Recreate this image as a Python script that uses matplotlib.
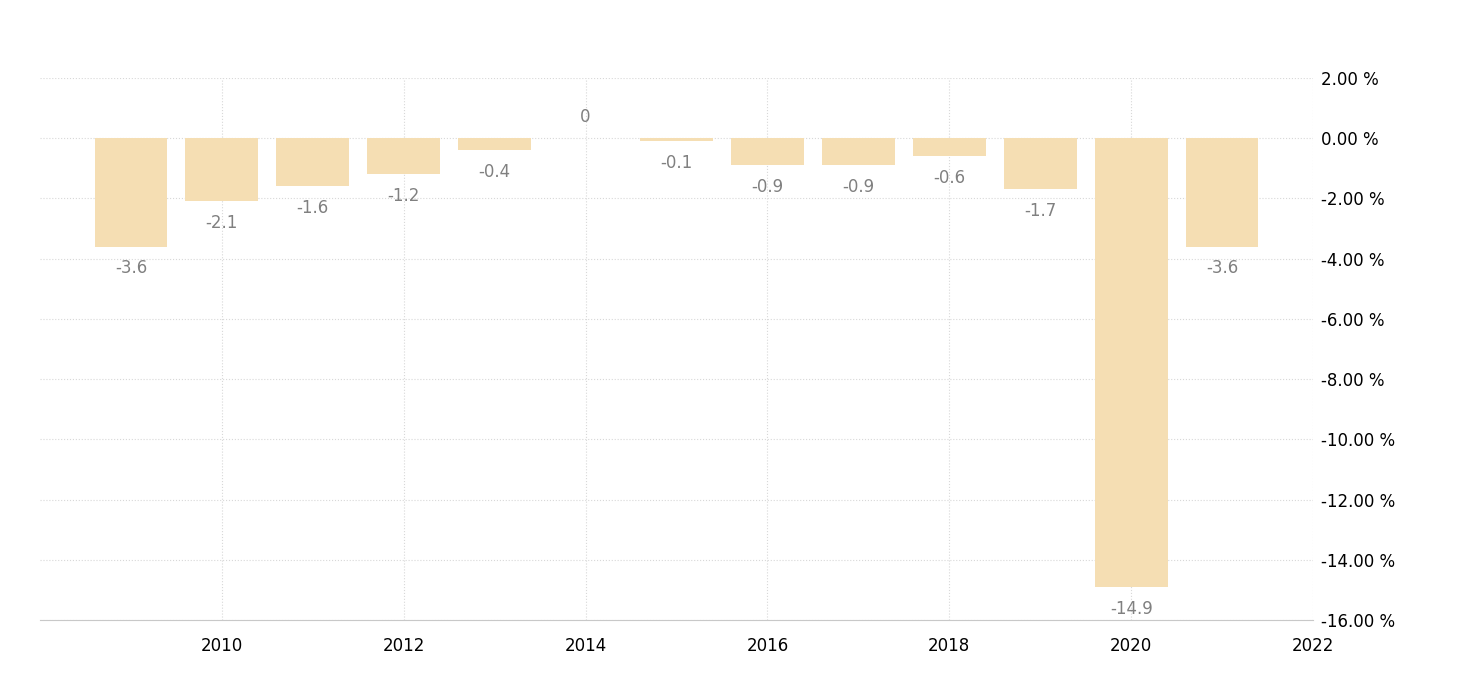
import matplotlib.pyplot as plt

years = [2009, 2010, 2011, 2012, 2013, 2014, 2015, 2016, 2017, 2018, 2019, 2020, 2021]
values = [-3.6, -2.1, -1.6, -1.2, -0.4, 0.0, -0.1, -0.9, -0.9, -0.6, -1.7, -14.9, -3.6]
labels = ["-3.6", "-2.1", "-1.6", "-1.2", "-0.4", "0", "-0.1", "-0.9", "-0.9", "-0.6", "-1.7", "-14.9", "-3.6"]
yticks = [2, 0, -2, -4, -6, -8, -10, -12, -14, -16]
xticks = [2010, 2012, 2014, 2016, 2018, 2020, 2022]

fig = plt.figure(figsize=(14.58, 6.86), dpi=100)
ax = fig.add_axes([40 / 1458, 1 - 620 / 686, 1273 / 1458, 542 / 686])

ax.bar(years, values, width=0.8, color="#f5deb3", zorder=2)
for x, v, t in zip(years, values, labels):
    y = v - 0.42 if v < 0 else v + 0.4
    ax.text(x, y, t, ha="center", va="top" if v < 0 else "bottom",
            color="#808080", fontsize=12)

ax.set_xlim(2008, 2022)
ax.set_ylim(-16, 2)
ax.set_xticks(xticks)
ax.set_yticks(yticks)
ax.set_yticklabels(["%.2f %%" % v for v in yticks])
ax.yaxis.tick_right()
ax.tick_params(axis="y", length=0, labelsize=12, colors="#000000", pad=6)
ax.tick_params(axis="x", length=0, labelsize=12, colors="#000000", pad=12)
ax.grid(True, color="#d8d8d8", linestyle=":", linewidth=0.8, zorder=0)
for s in ["top", "left", "right"]:
    ax.spines[s].set_visible(False)
ax.spines["bottom"].set_color("#c8c8c8")

fig.savefig("out.png", dpi=100)
